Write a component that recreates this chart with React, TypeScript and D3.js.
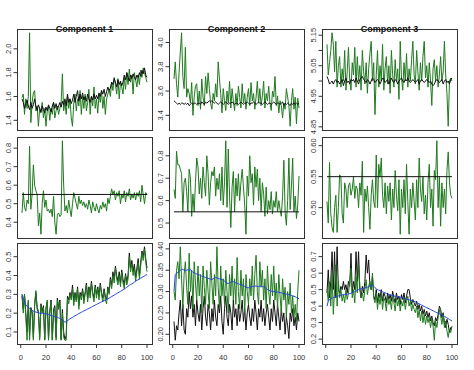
import React from "react";
import * as d3 from "d3";

// ---------- data ----------
const xIndex = d3.range(1, 101);
const xTicks = [0, 20, 40, 60, 80, 100];
const titles = ["Component 1", "Component 2", "Component 3"];
const refLevel = [0.55, 0.55, 0.55];

// Row 1
const g1 = [
  1.59, 1.62, 1.45, 1.58, 1.5, 1.6, 2.135, 1.38, 1.55, 1.63,
  1.65, 1.48, 1.52, 1.35, 1.5, 1.46, 1.55, 1.42, 1.5, 1.35,
  1.48, 1.52, 1.4, 1.5, 1.45, 1.55, 1.42, 1.48, 1.52, 1.45,
  1.5, 1.55, 1.79, 1.48, 1.55, 1.45, 1.6, 1.5, 1.58, 1.42,
  1.35, 1.55, 1.62, 1.48, 1.58, 1.52, 1.65, 1.45, 1.6, 1.5,
  1.62, 1.48, 1.55, 1.66, 1.45, 1.6, 1.52, 1.68, 1.5, 1.58,
  1.46, 1.62, 1.55, 1.65, 1.5, 1.6, 1.45, 1.58, 1.62, 1.66,
  1.6, 1.72, 1.65, 1.76, 1.7, 1.62, 1.75, 1.58, 1.72, 1.68,
  1.62, 1.76, 1.66, 1.8, 1.7, 1.83, 1.72, 1.78, 1.62, 1.8,
  1.74, 1.68, 1.78, 1.7, 1.82, 1.76, 1.84, 1.8, 1.76, 1.72,
];
const k1 = [
  1.58, 1.55, 1.5, 1.54, 1.57, 1.52, 1.49, 1.55, 1.5, 1.53,
  1.58, 1.52, 1.48, 1.53, 1.5, 1.47, 1.52, 1.49, 1.46, 1.51,
  1.48, 1.53, 1.5, 1.47, 1.52, 1.55, 1.5, 1.54, 1.49, 1.52,
  1.55, 1.51, 1.56, 1.53, 1.58, 1.52, 1.62, 1.55, 1.58, 1.54,
  1.57, 1.62, 1.55, 1.6, 1.65, 1.56, 1.62, 1.58, 1.63, 1.57,
  1.6, 1.56, 1.62, 1.58, 1.55, 1.6, 1.57, 1.62, 1.58, 1.61,
  1.58, 1.63, 1.6, 1.65, 1.62, 1.66, 1.6, 1.64, 1.68, 1.65,
  1.67, 1.72, 1.7, 1.75, 1.72, 1.68, 1.74, 1.7, 1.73, 1.69,
  1.72, 1.78, 1.74, 1.8, 1.76, 1.73, 1.78, 1.75, 1.79, 1.76,
  1.74, 1.78, 1.76, 1.8, 1.77, 1.82, 1.79, 1.84, 1.78, 1.76,
];
const g2 = [
  3.7, 3.84, 3.66, 3.55, 3.75, 3.92, 4.08, 3.72, 3.62, 3.96,
  3.55, 3.62, 3.58, 3.5, 3.67, 3.4, 3.55, 3.64, 3.66, 3.48,
  3.6, 3.45, 3.7, 3.55, 3.48, 3.72, 3.58, 3.75, 3.62, 3.5,
  3.45, 3.58, 3.52, 3.66, 3.55, 3.84, 3.7, 3.58, 3.42, 3.62,
  3.52, 3.44, 3.6, 3.5, 3.68, 3.46, 3.62, 3.52, 3.44, 3.58,
  3.48, 3.64, 3.55, 3.46, 3.66, 3.5, 3.58, 3.45, 3.55, 3.62,
  3.48, 3.67, 3.52, 3.58, 3.45, 3.55, 3.68, 3.5, 3.62, 3.48,
  3.56, 3.68, 3.46, 3.58, 3.52, 3.64, 3.5, 3.44, 3.6, 3.55,
  3.72, 3.48, 3.56, 3.42, 3.52, 3.48, 3.38, 3.5, 3.45, 3.62,
  3.55, 3.48, 3.31, 3.52, 3.62, 3.45, 3.55, 3.33, 3.54, 3.46,
];
const k2 = [
  3.52, 3.51, 3.5, 3.49, 3.5, 3.49, 3.5, 3.5, 3.49, 3.5,
  3.49, 3.5, 3.48, 3.49, 3.5, 3.49, 3.5, 3.5, 3.49, 3.5,
  3.5, 3.49, 3.51, 3.5, 3.49, 3.51, 3.5, 3.51, 3.52, 3.51,
  3.52, 3.51, 3.5, 3.51, 3.5, 3.49, 3.5, 3.51, 3.5, 3.49,
  3.5, 3.51, 3.5, 3.49, 3.5, 3.5, 3.51, 3.5, 3.49, 3.5,
  3.5, 3.49, 3.5, 3.51, 3.5, 3.49, 3.5, 3.5, 3.51, 3.5,
  3.49, 3.5, 3.5, 3.51, 3.5, 3.49, 3.5, 3.51, 3.5, 3.5,
  3.49, 3.5, 3.51, 3.5, 3.49, 3.5, 3.5, 3.49, 3.5, 3.51,
  3.5, 3.49, 3.5, 3.5, 3.49, 3.5, 3.51, 3.48, 3.5, 3.49,
  3.5, 3.49, 3.48, 3.5, 3.49, 3.5, 3.49, 3.5, 3.49, 3.5,
];
const g3 = [
  5.12, 5.02, 5.06, 5.1, 5.158, 5.12, 5.03, 5.13, 4.98, 5.05,
  5.08, 4.98, 5.04, 5.0, 5.1, 4.97, 5.03, 5.11, 5.0, 4.97,
  5.06, 5.02, 5.11, 4.98, 5.08, 5.0, 5.05, 4.97, 5.1, 5.03,
  4.99, 5.06, 4.96, 5.04, 5.09, 5.13, 5.0, 5.06, 4.89, 5.02,
  5.1, 4.98, 5.05, 5.0, 5.12, 4.97, 5.04, 5.08, 4.99, 5.05,
  4.96, 5.1, 5.02, 4.98, 5.07, 5.0, 5.04, 4.94, 5.13, 5.01,
  4.97, 5.06, 5.0, 5.09, 4.98, 5.04, 5.0, 5.07, 5.13, 5.02,
  4.99, 5.1, 5.03, 4.97, 5.06, 5.0, 5.08, 5.13, 5.01, 5.05,
  4.98, 5.06, 5.0, 4.92, 5.04, 5.07, 5.0, 5.05, 4.98, 5.02,
  5.08, 5.0, 5.03, 5.13, 5.02, 4.96, 4.852, 5.0, 5.01, 5.0,
];
const k3 = [
  5.015, 5.005, 4.99, 4.995, 5.0, 4.99, 5.0, 5.005, 4.995, 5.0,
  4.99, 4.995, 5.005, 4.985, 5.0, 5.01, 4.995, 5.0, 4.99, 5.005,
  5.0, 5.005, 4.995, 5.01, 5.0, 4.99, 5.005, 5.01, 5.015, 5.005,
  5.0, 4.995, 5.005, 5.0, 4.99, 5.0, 5.01, 5.005, 4.995, 5.0,
  5.005, 5.0, 4.99, 5.0, 5.01, 5.005, 4.995, 5.0, 5.005, 4.99,
  5.0, 5.01, 5.0, 4.995, 5.005, 5.0, 4.99, 5.0, 5.005, 5.01,
  5.0, 4.995, 5.005, 5.0, 5.01, 5.0, 4.995, 5.0, 5.005, 5.0,
  4.995, 5.0, 5.005, 4.99, 5.0, 5.005, 5.0, 4.995, 5.0, 5.005,
  5.0, 4.995, 5.0, 4.99, 4.985, 4.99, 5.0, 5.005, 5.0, 4.995,
  5.0, 5.005, 4.99, 5.0, 5.005, 4.995, 5.0, 4.99, 5.005, 5.01,
];

// Row 2
const g4 = [
  0.45, 0.56, 0.48, 0.46, 0.52, 0.5, 0.81, 0.47, 0.55, 0.71,
  0.6, 0.57, 0.55, 0.38, 0.45, 0.335, 0.5, 0.57, 0.48, 0.52,
  0.46, 0.47, 0.45, 0.47, 0.43, 0.54, 0.4, 0.335, 0.44, 0.45,
  0.43, 0.44, 0.84, 0.6, 0.46, 0.49, 0.45, 0.52, 0.47, 0.43,
  0.5, 0.56, 0.53, 0.5, 0.47, 0.54, 0.5, 0.52, 0.49, 0.51,
  0.48, 0.5, 0.47, 0.52, 0.49, 0.45, 0.51, 0.48, 0.46, 0.5,
  0.47, 0.45, 0.49, 0.47, 0.51, 0.48, 0.5, 0.46, 0.53, 0.5,
  0.54, 0.58, 0.55, 0.57, 0.52, 0.56, 0.54, 0.57, 0.5, 0.55,
  0.53, 0.57, 0.51, 0.56, 0.54, 0.58, 0.52, 0.55, 0.53, 0.56,
  0.52, 0.56, 0.54, 0.57, 0.51, 0.6, 0.55, 0.5, 0.56, 0.55,
];
const g5 = [
  0.65, 0.61, 0.82, 0.76, 0.76, 0.74, 0.72, 0.55, 0.68, 0.7,
  0.64, 0.55, 0.74, 0.7, 0.53, 0.63, 0.55, 0.68, 0.79, 0.75,
  0.63, 0.7, 0.61, 0.75, 0.68, 0.62, 0.8, 0.72, 0.58, 0.68,
  0.73, 0.71, 0.75, 0.62, 0.7, 0.65, 0.72, 0.6, 0.75, 0.58,
  0.68, 0.867, 0.57, 0.83, 0.62, 0.48, 0.66, 0.73, 0.55, 0.7,
  0.62, 0.72, 0.6, 0.68, 0.74, 0.66, 0.58, 0.45, 0.71, 0.62,
  0.8, 0.68, 0.72, 0.58, 0.75, 0.66, 0.74, 0.6, 0.7, 0.55,
  0.68, 0.63, 0.53, 0.66, 0.54, 0.6, 0.56, 0.64, 0.54, 0.6,
  0.57, 0.64, 0.55, 0.6, 0.56, 0.53, 0.62, 0.78, 0.55, 0.49,
  0.6, 0.79, 0.56, 0.66, 0.79, 0.55, 0.62, 0.52, 0.58, 0.71,
];
const g6 = [
  0.51, 0.475, 0.573, 0.49, 0.468, 0.46, 0.5, 0.52, 0.46, 0.5,
  0.553, 0.55, 0.49, 0.475, 0.54, 0.53, 0.5, 0.535, 0.54, 0.52,
  0.53, 0.55, 0.515, 0.535, 0.53, 0.5, 0.54, 0.52, 0.575, 0.46,
  0.53, 0.51, 0.535, 0.5, 0.465, 0.52, 0.545, 0.51, 0.5, 0.585,
  0.5, 0.57, 0.55, 0.58, 0.52, 0.5, 0.54, 0.49, 0.535, 0.51,
  0.54, 0.48, 0.53, 0.5, 0.56, 0.52, 0.495, 0.545, 0.457, 0.53,
  0.5, 0.545, 0.49, 0.57, 0.51, 0.457, 0.53, 0.5, 0.54, 0.51,
  0.48, 0.545, 0.5, 0.58, 0.53, 0.51, 0.55, 0.49, 0.52, 0.48,
  0.54, 0.57, 0.5, 0.53, 0.47, 0.56, 0.545, 0.608, 0.5, 0.55,
  0.47, 0.54, 0.5, 0.53, 0.49, 0.56, 0.59, 0.54, 0.52, 0.515,
];

// Row 3
const g7 = [
  0.3, 0.2, 0.3, 0.18, 0.056, 0.27, 0.056, 0.22, 0.2, 0.056,
  0.25, 0.32, 0.22, 0.2, 0.056, 0.24, 0.2, 0.23, 0.056, 0.22,
  0.27, 0.056, 0.2, 0.26, 0.056, 0.2, 0.23, 0.056, 0.27, 0.22,
  0.26, 0.056, 0.2, 0.07, 0.056, 0.056, 0.28, 0.25, 0.3, 0.27,
  0.33, 0.24, 0.3, 0.26, 0.33, 0.22, 0.3, 0.27, 0.32, 0.25,
  0.3, 0.35, 0.26, 0.33, 0.28, 0.36, 0.3, 0.26, 0.34, 0.28,
  0.33, 0.27, 0.35, 0.3, 0.26, 0.32, 0.27, 0.25, 0.33, 0.3,
  0.38, 0.33, 0.4, 0.36, 0.44, 0.38, 0.35, 0.4, 0.34, 0.42,
  0.36, 0.33, 0.4, 0.35, 0.38, 0.5, 0.42, 0.46, 0.4, 0.44,
  0.37, 0.42, 0.47, 0.38, 0.45, 0.52, 0.48, 0.54, 0.47, 0.42,
];
const k7 = [
  0.29, 0.22, 0.3, 0.2, 0.1, 0.26, 0.08, 0.23, 0.21, 0.07,
  0.24, 0.31, 0.23, 0.21, 0.07, 0.25, 0.21, 0.24, 0.06, 0.23,
  0.26, 0.06, 0.21, 0.27, 0.06, 0.22, 0.24, 0.07, 0.28, 0.23,
  0.27, 0.06, 0.22, 0.1, 0.06, 0.08, 0.29, 0.27, 0.31, 0.28,
  0.35, 0.26, 0.31, 0.27, 0.34, 0.24, 0.31, 0.29, 0.33, 0.27,
  0.31, 0.36, 0.28, 0.34, 0.3, 0.37, 0.31, 0.28, 0.35, 0.3,
  0.34, 0.29, 0.36, 0.31, 0.28, 0.33, 0.29, 0.27, 0.34, 0.31,
  0.39, 0.35, 0.42, 0.38, 0.45, 0.4, 0.37, 0.42, 0.36, 0.43,
  0.38, 0.35, 0.41, 0.37, 0.4, 0.52, 0.44, 0.48, 0.42, 0.46,
  0.39, 0.44, 0.49, 0.4, 0.47, 0.53, 0.5, 0.553, 0.49, 0.44,
];
const b7 = [
  0.3, 0.28, 0.26, 0.245, 0.235, 0.23, 0.225, 0.22, 0.215, 0.21,
  0.21, 0.205, 0.205, 0.2, 0.2, 0.2, 0.2, 0.198, 0.197, 0.196,
  0.195, 0.193, 0.19, 0.188, 0.186, 0.184, 0.182, 0.18, 0.178, 0.175,
  0.172, 0.168, 0.163, 0.158, 0.152, 0.155, 0.16, 0.165, 0.17, 0.174,
  0.178, 0.182, 0.186, 0.19, 0.194, 0.198, 0.201, 0.205, 0.208, 0.212,
  0.215, 0.218, 0.222, 0.225, 0.229, 0.232, 0.236, 0.239, 0.243, 0.246,
  0.25, 0.253, 0.257, 0.26, 0.264, 0.267, 0.27, 0.274, 0.277, 0.28,
  0.284, 0.288, 0.292, 0.296, 0.3, 0.304, 0.308, 0.312, 0.316, 0.32,
  0.324, 0.328, 0.333, 0.338, 0.343, 0.348, 0.352, 0.356, 0.36, 0.365,
  0.37, 0.374, 0.378, 0.382, 0.386, 0.39, 0.394, 0.398, 0.402, 0.405,
];
const g8 = [
  0.3, 0.28, 0.35, 0.37, 0.33, 0.405, 0.33, 0.26, 0.34, 0.37,
  0.31, 0.27, 0.39, 0.3, 0.35, 0.26, 0.37, 0.32, 0.28, 0.36,
  0.29, 0.34, 0.25, 0.36, 0.31, 0.27, 0.35, 0.3, 0.26, 0.37,
  0.32, 0.27, 0.34, 0.29, 0.405, 0.31, 0.26, 0.36, 0.29, 0.33,
  0.27, 0.35, 0.3, 0.25, 0.34, 0.29, 0.36, 0.28, 0.33, 0.27,
  0.38, 0.3, 0.26, 0.35, 0.29, 0.33, 0.25, 0.34, 0.3, 0.27,
  0.33, 0.29, 0.36, 0.28, 0.34, 0.385, 0.3, 0.27, 0.37, 0.31,
  0.35, 0.28, 0.33, 0.26, 0.36, 0.3, 0.27, 0.34, 0.29, 0.36,
  0.28, 0.32, 0.26, 0.34, 0.29, 0.25, 0.33, 0.28, 0.31, 0.24,
  0.3, 0.27, 0.32, 0.25, 0.29, 0.24, 0.27, 0.23, 0.3, 0.35,
];
const k8 = [
  0.23, 0.186, 0.22, 0.21, 0.25, 0.28, 0.22, 0.27, 0.21, 0.2,
  0.26, 0.24, 0.3, 0.26, 0.29, 0.24, 0.27, 0.22, 0.28, 0.25,
  0.23, 0.27, 0.21, 0.26, 0.29, 0.24, 0.22, 0.27, 0.25, 0.21,
  0.26, 0.23, 0.28, 0.24, 0.22, 0.27, 0.25, 0.29, 0.23, 0.2,
  0.26, 0.29, 0.24, 0.22, 0.27, 0.25, 0.21, 0.28, 0.24, 0.26,
  0.22, 0.27, 0.23, 0.25, 0.28, 0.23, 0.26, 0.21, 0.25, 0.27,
  0.24, 0.22, 0.26, 0.23, 0.28, 0.25, 0.21, 0.26, 0.24, 0.28,
  0.23, 0.26, 0.22, 0.25, 0.27, 0.24, 0.21, 0.26, 0.23, 0.28,
  0.25, 0.22, 0.27, 0.24, 0.21, 0.26, 0.23, 0.25, 0.2, 0.24,
  0.22, 0.19, 0.25, 0.23, 0.26, 0.22, 0.24, 0.21, 0.25, 0.23,
];
const b8 = [
  0.3, 0.34, 0.343, 0.345, 0.347, 0.35, 0.352, 0.352, 0.35, 0.349,
  0.35, 0.351, 0.35, 0.352, 0.348, 0.345, 0.344, 0.342, 0.341, 0.34,
  0.339, 0.338, 0.336, 0.335, 0.334, 0.333, 0.332, 0.331, 0.33, 0.329,
  0.328, 0.33, 0.332, 0.333, 0.332, 0.331, 0.33, 0.329, 0.328, 0.327,
  0.325, 0.322, 0.32, 0.319, 0.32, 0.322, 0.324, 0.323, 0.322, 0.32,
  0.319, 0.318, 0.317, 0.316, 0.315, 0.314, 0.312, 0.31, 0.309, 0.309,
  0.31, 0.311, 0.312, 0.312, 0.313, 0.313, 0.312, 0.312, 0.313, 0.313,
  0.312, 0.311, 0.31, 0.307, 0.305, 0.303, 0.302, 0.301, 0.3, 0.3,
  0.3, 0.299, 0.299, 0.298, 0.298, 0.297, 0.296, 0.295, 0.295, 0.294,
  0.294, 0.293, 0.292, 0.291, 0.29, 0.289, 0.288, 0.286, 0.285, 0.283,
];
const g9 = [
  0.5, 0.43, 0.55, 0.4, 0.6, 0.35, 0.5, 0.65, 0.4, 0.55,
  0.45, 0.5, 0.43, 0.47, 0.42, 0.5, 0.44, 0.48, 0.55, 0.63,
  0.45, 0.5, 0.42, 0.58, 0.48, 0.65, 0.52, 0.45, 0.48, 0.43,
  0.5, 0.56, 0.47, 0.52, 0.55, 0.5, 0.6, 0.45, 0.42, 0.48,
  0.38, 0.46, 0.41, 0.48, 0.38, 0.45, 0.43, 0.37, 0.46, 0.41,
  0.44, 0.38, 0.46, 0.42, 0.37, 0.45, 0.4, 0.44, 0.37, 0.43,
  0.4, 0.45, 0.38, 0.43, 0.46, 0.4, 0.43, 0.37, 0.41, 0.38,
  0.36, 0.4, 0.33, 0.38, 0.31, 0.37, 0.3, 0.35, 0.29, 0.34,
  0.3, 0.33, 0.27, 0.32, 0.28, 0.193, 0.31, 0.27, 0.33, 0.38,
  0.34, 0.29, 0.35, 0.27, 0.31, 0.25, 0.21, 0.26, 0.24, 0.28,
];
const k9 = [
  0.48, 0.62, 0.45, 0.55, 0.73, 0.5, 0.73, 0.45, 0.76, 0.5,
  0.48, 0.52, 0.5, 0.55, 0.5, 0.53, 0.48, 0.55, 0.52, 0.72,
  0.48, 0.55, 0.5, 0.73, 0.55, 0.73, 0.5, 0.45, 0.52, 0.48,
  0.55, 0.71, 0.6, 0.68, 0.52, 0.5, 0.58, 0.46, 0.44, 0.5,
  0.42, 0.48, 0.45, 0.5, 0.43, 0.48, 0.46, 0.42, 0.48, 0.44,
  0.47, 0.43, 0.49, 0.45, 0.42, 0.48, 0.44, 0.46, 0.41, 0.47,
  0.44, 0.48, 0.42, 0.46, 0.5, 0.5, 0.45, 0.41, 0.44, 0.42,
  0.4, 0.43, 0.38, 0.41, 0.37, 0.4, 0.35, 0.38, 0.34, 0.37,
  0.33, 0.36, 0.31, 0.34, 0.3, 0.28, 0.33, 0.31, 0.35, 0.4,
  0.38, 0.33, 0.36, 0.3, 0.27, 0.32, 0.29, 0.24, 0.27, 0.27,
];
const b9 = [
  0.4, 0.43, 0.44, 0.445, 0.45, 0.452, 0.455, 0.458, 0.46, 0.462,
  0.464, 0.466, 0.468, 0.47, 0.47, 0.471, 0.472, 0.474, 0.476, 0.478,
  0.48, 0.484, 0.488, 0.492, 0.496, 0.5, 0.503, 0.505, 0.507, 0.508,
  0.51, 0.512, 0.515, 0.518, 0.522, 0.525, 0.528, 0.52, 0.512, 0.505,
  0.5, 0.497, 0.494, 0.49, 0.487, 0.484, 0.48, 0.477, 0.474, 0.47,
  0.468, 0.466, 0.464, 0.462, 0.46, 0.458, 0.456, 0.455, 0.454, 0.452,
  0.45, 0.448, 0.446, 0.443, 0.44, 0.438, 0.436, 0.434, 0.432, 0.43,
  0.426, 0.422, 0.418, 0.414, 0.41, 0.406, 0.402, 0.398, 0.394, 0.39,
  0.387, 0.383, 0.38, 0.376, 0.372, 0.368, 0.364, 0.36, 0.357, 0.354,
  0.35, 0.346, 0.342, 0.337, 0.333, 0.328, 0.324, 0.319, 0.314, 0.31,
];

// y-axis ticks and labels ("" = tick without label)
const yTicks1 = [1.4, 1.6, 1.8, 2.0];
const yLabels1 = ["1.4", "1.6", "1.8", "2.0"];
const yTicks2 = [3.4, 3.6, 3.8, 4.0];
const yLabels2 = ["3.4", "3.6", "3.8", "4.0"];
const yTicks3 = [4.85, 4.9, 4.95, 5.0, 5.05, 5.1, 5.15];
const yLabels3 = ["4.85", "", "4.95", "", "5.05", "", "5.15"];
const yTicks4 = [0.4, 0.5, 0.6, 0.7, 0.8];
const yLabels4 = ["0.4", "0.5", "0.6", "0.7", "0.8"];
const yTicks5 = [0.5, 0.6, 0.7, 0.8];
const yLabels5 = ["0.5", "0.6", "0.7", "0.8"];
const yTicks6 = [0.5, 0.55, 0.6];
const yLabels6 = ["0.50", "0.55", "0.60"];
const yTicks7 = [0.1, 0.2, 0.3, 0.4, 0.5];
const yLabels7 = ["0.1", "0.2", "0.3", "0.4", "0.5"];
const yTicks8 = [0.2, 0.25, 0.3, 0.35, 0.4];
const yLabels8 = ["0.20", "0.25", "0.30", "0.35", "0.40"];
const yTicks9 = [0.2, 0.3, 0.4, 0.5, 0.6, 0.7];
const yLabels9 = ["0.2", "0.3", "0.4", "0.5", "0.6", "0.7"];

// ---------- styling ----------
const GREEN = "#1f7a1f";
const BLACK = "#111111";
const BLUE = "#2244dd";
const FONT = "'Liberation Sans', Arial, Helvetica, sans-serif";

type Series = { values: number[]; color: string };
type Panel = {
  row: number;
  col: number;
  series: Series[];
  ref?: number;
  ticks: number[];
  labels: string[];
};

const panels: Panel[] = [
  { row: 0, col: 0, series: [{ values: g1, color: GREEN }, { values: k1, color: BLACK }], ticks: yTicks1, labels: yLabels1 },
  { row: 0, col: 1, series: [{ values: g2, color: GREEN }, { values: k2, color: BLACK }], ticks: yTicks2, labels: yLabels2 },
  { row: 0, col: 2, series: [{ values: g3, color: GREEN }, { values: k3, color: BLACK }], ticks: yTicks3, labels: yLabels3 },
  { row: 1, col: 0, series: [{ values: g4, color: GREEN }], ref: refLevel[0], ticks: yTicks4, labels: yLabels4 },
  { row: 1, col: 1, series: [{ values: g5, color: GREEN }], ref: refLevel[1], ticks: yTicks5, labels: yLabels5 },
  { row: 1, col: 2, series: [{ values: g6, color: GREEN }], ref: refLevel[2], ticks: yTicks6, labels: yLabels6 },
  { row: 2, col: 0, series: [{ values: k7, color: BLACK }, { values: g7, color: GREEN }, { values: b7, color: BLUE }], ticks: yTicks7, labels: yLabels7 },
  { row: 2, col: 1, series: [{ values: k8, color: BLACK }, { values: g8, color: GREEN }, { values: b8, color: BLUE }], ticks: yTicks8, labels: yLabels8 },
  { row: 2, col: 2, series: [{ values: k9, color: BLACK }, { values: g9, color: GREEN }, { values: b9, color: BLUE }], ticks: yTicks9, labels: yLabels9 },
];

const COL_LEFT = [17, 169, 322];
const ROW_TOP = [29, 137, 243];
const PW = 135;
const PH = 101;

function padded(lo: number, hi: number): [number, number] {
  const d = (hi - lo) * 0.04;
  return [lo - d, hi + d];
}

function PanelView({ p }: { p: Panel }) {
  const left = COL_LEFT[p.col];
  const top = ROW_TOP[p.row];
  const xExt = d3.extent(xIndex) as [number, number];
  const x = d3.scaleLinear().domain(padded(xExt[0], xExt[1])).range([left, left + PW]);
  const all = p.series.flatMap((s) => s.values).concat(p.ref !== undefined ? [p.ref] : []);
  const yExt = d3.extent(all) as [number, number];
  const y = d3.scaleLinear().domain(padded(yExt[0], yExt[1])).range([top + PH, top]);
  const line = d3
    .line<number>()
    .x((_, i) => x(xIndex[i]))
    .y((d) => y(d));
  const bottom = top + PH;
  return (
    <g>
      {p.series.map((s, i) =>
        i === 0 || p.row !== 0 ? null : null
      )}
      {p.series.map((s, i) => (
        <path key={i} d={line(s.values) || ""} fill="none" stroke={s.color} strokeWidth={1} strokeLinejoin="round" />
      ))}
      {p.ref !== undefined && (
        <line x1={x(xIndex[0])} x2={x(xIndex[xIndex.length - 1])} y1={y(p.ref)} y2={y(p.ref)} stroke={BLACK} strokeWidth={1} />
      )}
      <rect x={left + 0.5} y={top + 0.5} width={PW} height={PH} fill="none" stroke="#333" strokeWidth={1} />
      {/* y axis */}
      {p.ticks.map((t, i) => (
        <g key={"yt" + i}>
          <line x1={left + 0.5} x2={left - 3.5} y1={y(t)} y2={y(t)} stroke="#333" strokeWidth={1} />
          {p.labels[i] !== "" && (
            <text
              transform={`translate(${left - 6},${y(t)}) rotate(-90)`}
              textAnchor="middle"
              fontSize={7.5}
              fontFamily={FONT}
              fill="#333"
            >
              {p.labels[i]}
            </text>
          )}
        </g>
      ))}
      {/* x axis on bottom row */}
      {p.row === 2 &&
        xTicks.map((t) => (
          <g key={"xt" + t}>
            <line x1={x(t)} x2={x(t)} y1={bottom + 0.5} y2={bottom + 4} stroke="#333" strokeWidth={1} />
            <text x={x(t)} y={bottom + 15.5} textAnchor="middle" fontSize={7.5} fontFamily={FONT} fill="#333">
              {t}
            </text>
          </g>
        ))}
      {p.row === 0 && (
        <text x={left + PW / 2} y={top + 2.5} textAnchor="middle" fontSize={9} fontWeight="bold" fontFamily={FONT} fill="#111">
          {titles[p.col]}
        </text>
      )}
    </g>
  );
}

export default function App() {
  return (
    <svg
      width={474}
      height={370}
      viewBox="0 0 474 370"
      style={{ position: "absolute", left: 0, top: 0, background: "#fff" }}
    >
      <rect x={0} y={0} width={474} height={370} fill="#fff" />
      {panels.map((p, i) => (
        <PanelView key={i} p={p} />
      ))}
    </svg>
  );
}
